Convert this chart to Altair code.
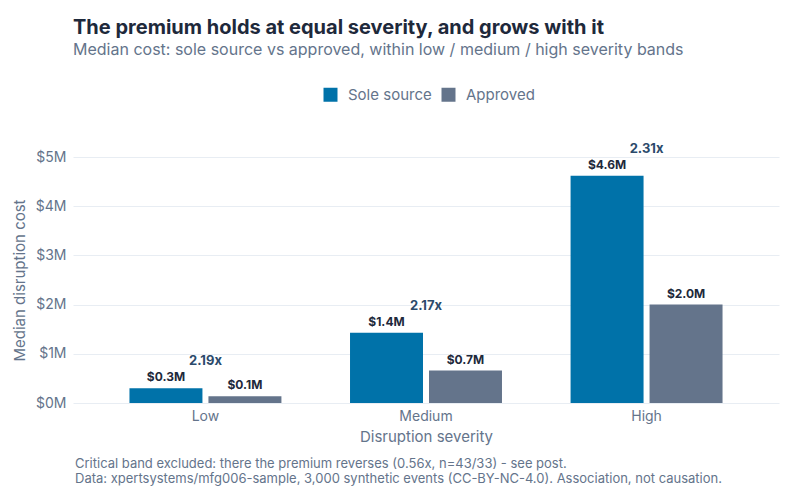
import altair as alt
import pandas as pd

# Median disruption cost per severity band (USD)
severity = ["Low", "Medium", "High"]
sole_source = [300000, 1430000, 4620000]
approved = [137000, 660000, 2000000]
premium = ["2.19x", "2.17x", "2.31x"]

sources = ["Sole source", "Approved"]
colors = ["#0072a9", "#64748b"]

footnotes = [
    "Critical band excluded: there the premium reverses (0.56x, n=43/33) - see post.",
    "Data: xpertsystems/mfg006-sample, 3,000 synthetic events (CC-BY-NC-4.0). Association, not causation.",
]

FONT = "Inter"
MUTED = "#64748b"
DARK = "#1e293b"

bars_df = pd.DataFrame(
    [{"severity": s, "source": "Sole source", "cost": v} for s, v in zip(severity, sole_source)]
    + [{"severity": s, "source": "Approved", "cost": v} for s, v in zip(severity, approved)]
)
ratio_df = pd.DataFrame(
    {
        "severity": severity,
        "top": [max(a, b) for a, b in zip(sole_source, approved)],
        "ratio": premium,
    }
)

x_enc = alt.X(
    "severity:N",
    sort=severity,
    title="Disruption severity",
    scale=alt.Scale(paddingInner=0.311, paddingOuter=0.256),
    axis=alt.Axis(labelAngle=0, ticks=False, domain=False, labelPadding=6, titlePadding=6),
)
y_enc = alt.Y(
    "cost:Q",
    title="Median disruption cost",
    scale=alt.Scale(domain=[0, 5000000], nice=False),
    axis=alt.Axis(
        values=[0, 1000000, 2000000, 3000000, 4000000, 5000000],
        labelExpr="'$' + format(datum.value / 1e6, '.0f') + 'M'",
        ticks=False,
        domain=False,
        labelPadding=7,
        titlePadding=8,
    ),
)
offset_enc = alt.XOffset("source:N", sort=sources, scale=alt.Scale(paddingInner=0.076))

base = alt.Chart(bars_df).encode(x=x_enc, xOffset=offset_enc, y=y_enc)

bars = base.mark_bar().encode(
    color=alt.Color(
        "source:N",
        sort=sources,
        scale=alt.Scale(domain=sources, range=colors),
        legend=alt.Legend(
            title=None,
            orient="none",
            direction="horizontal",
            legendX=250,
            legendY=-70,
            symbolType="square",
            symbolSize=196,
            symbolStrokeWidth=0,
            labelFontSize=15,
            labelColor=MUTED,
            labelFont=FONT,
            labelOffset=10,
            columnPadding=9,
            padding=0,
        ),
    )
)

values = base.transform_calculate(
    label="'$' + format(datum.cost / 1e6, '.1f') + 'M'"
).mark_text(
    baseline="bottom", dy=-4, fontSize=12, fontWeight="bold", color=DARK, font=FONT
).encode(text="label:N")

ratios = alt.Chart(ratio_df).mark_text(
    baseline="bottom", dy=-20, fontSize=13, fontWeight="bold", color="#2b4a6b", font=FONT
).encode(
    x=alt.X("severity:N", sort=severity),
    y=alt.Y("top:Q"),
    text="ratio:N",
)

note_layers = [
    alt.Chart(pd.DataFrame({"line": [txt]})).mark_text(
        align="left", baseline="alphabetic", fontSize=13, color=MUTED, font=FONT
    ).encode(x=alt.value(2), y=alt.value(311 + 15 * i), text="line:N")
    for i, txt in enumerate(footnotes)
]

chart = (
    alt.layer(bars, values, ratios, *note_layers)
    .properties(
        width=706,
        height=246,
        autosize=alt.AutoSizeParams(type="none"),
        padding={"left": 73, "top": 157, "right": 21, "bottom": 97},
        title=alt.TitleParams(
            text="The premium holds at equal severity, and grows with it",
            subtitle="Median cost: sole source vs approved, within low / medium / high severity bands",
            anchor="start",
            frame="group",
            offset=29,
            font=FONT,
            fontSize=20,
            fontWeight="bold",
            color=DARK,
            subtitleFont=FONT,
            subtitleFontSize=16,
            subtitleColor=MUTED,
            subtitlePadding=4,
        ),
    )
    .configure_view(stroke=None)
    .configure_axis(
        gridColor="#e8edf3",
        labelColor=MUTED,
        titleColor=MUTED,
        labelFont=FONT,
        titleFont=FONT,
        labelFontSize=14,
        titleFontSize=15,
        titleFontWeight="normal",
    )
)

chart.save("out.html", embed_options={"renderer": "svg", "actions": False})
